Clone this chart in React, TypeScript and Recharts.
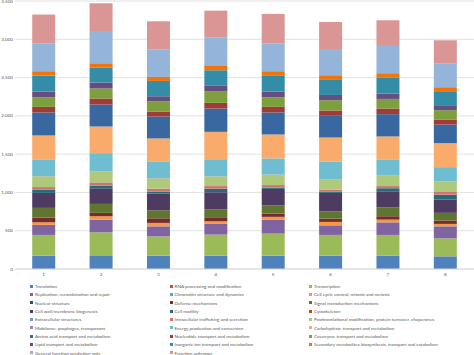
import { BarChart, Bar, XAxis, YAxis, CartesianGrid } from 'recharts'

const bars = ['1', '2', '3', '4', '5', '6', '7', '8']

// COG category counts per sample (bottom to top of each stack)
const translation = [174, 178, 174, 174, 174, 174, 174, 165]
const rnaProcessing = [1, 1, 1, 1, 1, 1, 1, 1]
const transcription = [270, 300, 251, 274, 287, 270, 270, 234]
const replication = [130, 165, 131, 139, 178, 125, 164, 157]
const chromatin = [1, 1, 1, 1, 1, 1, 1, 1]
const cellCycle = [34, 44, 44, 34, 40, 44, 35, 31]
const nuclear = [0, 0, 0, 0, 0, 0, 0, 0]
const defense = [62, 44, 60, 44, 43, 43, 44, 43]
const signal = [126, 117, 105, 109, 108, 96, 117, 101]
const cellWall = [196, 204, 218, 226, 214, 240, 209, 174]
const motility = [43, 35, 26, 44, 17, 17, 39, 61]
const cytoskeleton = [2, 2, 2, 2, 2, 2, 2, 2]
const extracellular = [1, 1, 1, 1, 1, 1, 1, 1]
const trafficking = [30, 39, 35, 34, 30, 22, 26, 43]
const posttranslational = [140, 144, 134, 126, 135, 135, 140, 130]
const mobilome = [3, 3, 3, 3, 3, 3, 3, 3]
const energy = [212, 235, 213, 222, 210, 230, 199, 183]
const carbohydrate = [319, 348, 306, 357, 313, 313, 306, 313]
const aminoAcid = [300, 287, 287, 305, 287, 292, 291, 244]
const nucleotide = [73, 79, 65, 74, 73, 61, 74, 61]
const coenzyme = [126, 130, 134, 148, 126, 134, 125, 126]
const lipid = [75, 78, 65, 74, 75, 69, 70, 65]
const inorganicIon = [209, 196, 200, 204, 204, 205, 205, 183]
const secondary = [56, 56, 52, 65, 61, 53, 61, 52]
const generalFunction = [365, 409, 362, 365, 365, 330, 356, 313]
const unknown = [375, 374, 365, 348, 383, 365, 335, 300]

const seriesNames = [
  'Translation',
  'RNA processing and modification',
  'Transcription',
  'Replication, recombination and repair',
  'Chromatin structure and dynamics',
  'Cell cycle control, mitosis and meiosis',
  'Nuclear structure',
  'Defense mechanisms',
  'Signal transduction mechanisms',
  'Cell wall/membrane biogenesis',
  'Cell motility',
  'Cytoskeleton',
  'Extracellular structures',
  'Intracellular trafficking and secretion',
  'Posttranslational modification, protein turnover, chaperones',
  'Mobilome: prophages, transposons',
  'Energy production and conversion',
  'Carbohydrate transport and metabolism',
  'Amino acid transport and metabolism',
  'Nucleotide transport and metabolism',
  'Coenzyme transport and metabolism',
  'Lipid transport and metabolism',
  'Inorganic ion transport and metabolism',
  'Secondary metabolites biosynthesis, transport and catabolism',
  'General function prediction only',
  'Function unknown',
]

const seriesValues = [
  translation, rnaProcessing, transcription, replication, chromatin, cellCycle,
  nuclear, defense, signal, cellWall, motility, cytoskeleton,
  extracellular, trafficking, posttranslational, mobilome, energy, carbohydrate,
  aminoAcid, nucleotide, coenzyme, lipid, inorganicIon, secondary,
  generalFunction, unknown,
]

const yTicks = [0, 500, 1000, 1500, 2000, 2500, 3000, 3500]

// office 2007 style series palette
const colors = [
  '#4F81BD', '#C0504D', '#9BBB59', '#8064A2', '#4BACC6', '#F79646',
  '#2B4D77', '#772C2A', '#5F7530', '#4D3B62', '#276A7C', '#B65708',
  '#729ACA', '#CD7371', '#AFC97A', '#9983B5', '#6FBDD1', '#F9AB6B',
  '#39679F', '#A03B38', '#7E9F3E', '#654E82', '#348DA6', '#F3730A',
  '#95B4D9', '#DA9695',
]

const chartData = bars.map((b, i) => {
  const row: Record<string, string | number> = { name: b }
  seriesNames.forEach((s, j) => {
    row[`s${j}`] = seriesValues[j][i]
  })
  return row
})

const fmt = (v: number) => v.toLocaleString('en-US')

export default function App() {
  const font = 'Lato, "Liberation Sans", sans-serif'
  return (
    <div style={{ position: 'absolute', left: 0, top: 0, width: 474, height: 355, background: '#fff', fontFamily: font }}>
      <BarChart
        width={474}
        height={281}
        data={chartData}
        margin={{ top: 1, right: 0, left: 0, bottom: 0 }}
        barCategoryGap="30%"
      >
        <CartesianGrid vertical={false} stroke="#D9D9D9" strokeWidth={0.8} />
        <XAxis
          dataKey="name"
          height={12}
          tickLine={false}
          tickSize={2}
          tickMargin={2}
          axisLine={{ stroke: '#D9D9D9' }}
          tick={{ fill: '#595959', fontSize: 4.6, fontFamily: font }}
        />
        <YAxis
          width={15}
          domain={[0, 3500]}
          ticks={yTicks}
          interval={0}
          tickFormatter={fmt}
          tickLine={false}
          axisLine={false}
          tickSize={1}
          tickMargin={1}
          tick={{ fill: '#595959', fontSize: 4.6, fontFamily: font }}
        />
        {seriesNames.map((s, j) => (
          <Bar
            key={s}
            dataKey={`s${j}`}
            name={s}
            stackId="cog"
            fill={colors[j]}
            isAnimationActive={false}
          />
        ))}
      </BarChart>
      <div
        style={{
          position: 'absolute',
          left: 30,
          top: 282,
          width: 444,
          display: 'grid',
          gridTemplateColumns: '139.5px 139.5px 165px',
          gridAutoRows: '8.33px',
          fontSize: 4.6,
          color: '#595959',
        }}
      >
        {seriesNames.map((s, j) => (
          <div key={s} style={{ display: 'flex', alignItems: 'center', whiteSpace: 'nowrap', lineHeight: '8.33px' }}>
            <span style={{ display: 'inline-block', width: 3, height: 3, background: colors[j], marginRight: 2 }} />
            <span style={{ textDecoration: j === 24 ? 'underline' : 'none' }}>{s}</span>
          </div>
        ))}
      </div>
    </div>
  )
}
